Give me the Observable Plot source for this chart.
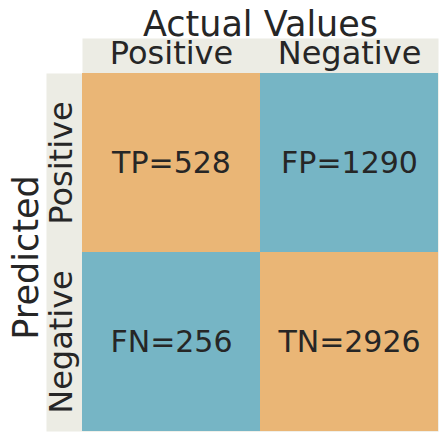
<!DOCTYPE html>
<html>
<head>
<meta charset="utf-8">
<script src="https://cdn.jsdelivr.net/npm/d3@7"></script>
<script src="https://cdn.jsdelivr.net/npm/@observablehq/plot@0.6"></script>
<style>
  body { margin: 0; background: #fff; }
  #chart svg { display: block; }
</style>
</head>
<body>
<div id="chart"></div>
<script>
// confusion matrix, read row by row (predicted) then column (actual)
const actualValues = ['Positive', 'Negative']
const predictedValues = ['Positive', 'Negative']
const cellNames = ['TP', 'FP', 'FN', 'TN']
const cellCounts = [528, 1290, 256, 2926]

const cells = []
predictedValues.forEach((p, i) => {
  actualValues.forEach((a, j) => {
    const k = i * actualValues.length + j
    cells.push({
      predicted: p,
      actual: a,
      name: cellNames[k],
      count: cellCounts[k],
      kind: p === a ? 'correct' : 'wrong',
    })
  })
})

const band = '#ecece4'
const ink = '#262626'

const chart = Plot.plot({
  width: 445,
  height: 438,
  marginTop: 73,
  marginLeft: 82,
  marginRight: 7,
  marginBottom: 7,
  style: { fontFamily: 'DejaVu Sans', color: ink, background: '#fff' },
  x: { domain: actualValues, padding: 0, axis: null },
  y: { domain: predictedValues, padding: 0, axis: null },
  color: { domain: ['correct', 'wrong'], range: ['#eab676', '#76b5c5'] },
  marks: [
    // header bands behind the tick labels
    Plot.frame({ fill: band, stroke: null, insetTop: -35 }),
    Plot.frame({ fill: band, stroke: null, insetLeft: -36 }),

    Plot.cell(cells, { x: 'actual', y: 'predicted', fill: 'kind' }),
    Plot.text(cells, {
      x: 'actual', y: 'predicted',
      text: d => `${d.name}=${d.count}`,
      fontSize: 30, fill: ink,
    }),

    // column labels (top)
    Plot.text(actualValues, {
      x: d => d, frameAnchor: 'top', lineAnchor: 'bottom', textAnchor: 'middle',
      dy: -10, fontSize: 32, fill: ink,
    }),
    // row labels (left, rotated)
    Plot.text(predictedValues, {
      y: d => d, frameAnchor: 'left', lineAnchor: 'bottom', textAnchor: 'middle',
      rotate: -90, dx: -11, fontSize: 32, fill: ink,
    }),

    Plot.text(['Actual Values'], {
      frameAnchor: 'top', lineAnchor: 'bottom', textAnchor: 'middle',
      dy: -38, fontSize: 35, fill: ink,
    }),
    Plot.text(['Predicted'], {
      frameAnchor: 'left', lineAnchor: 'bottom', textAnchor: 'middle', rotate: -90,
      dx: -45, dy: 5, fontSize: 35, fill: ink,
    }),
  ],
})

d3.select('#chart').append(() => chart)
</script>
</body>
</html>
